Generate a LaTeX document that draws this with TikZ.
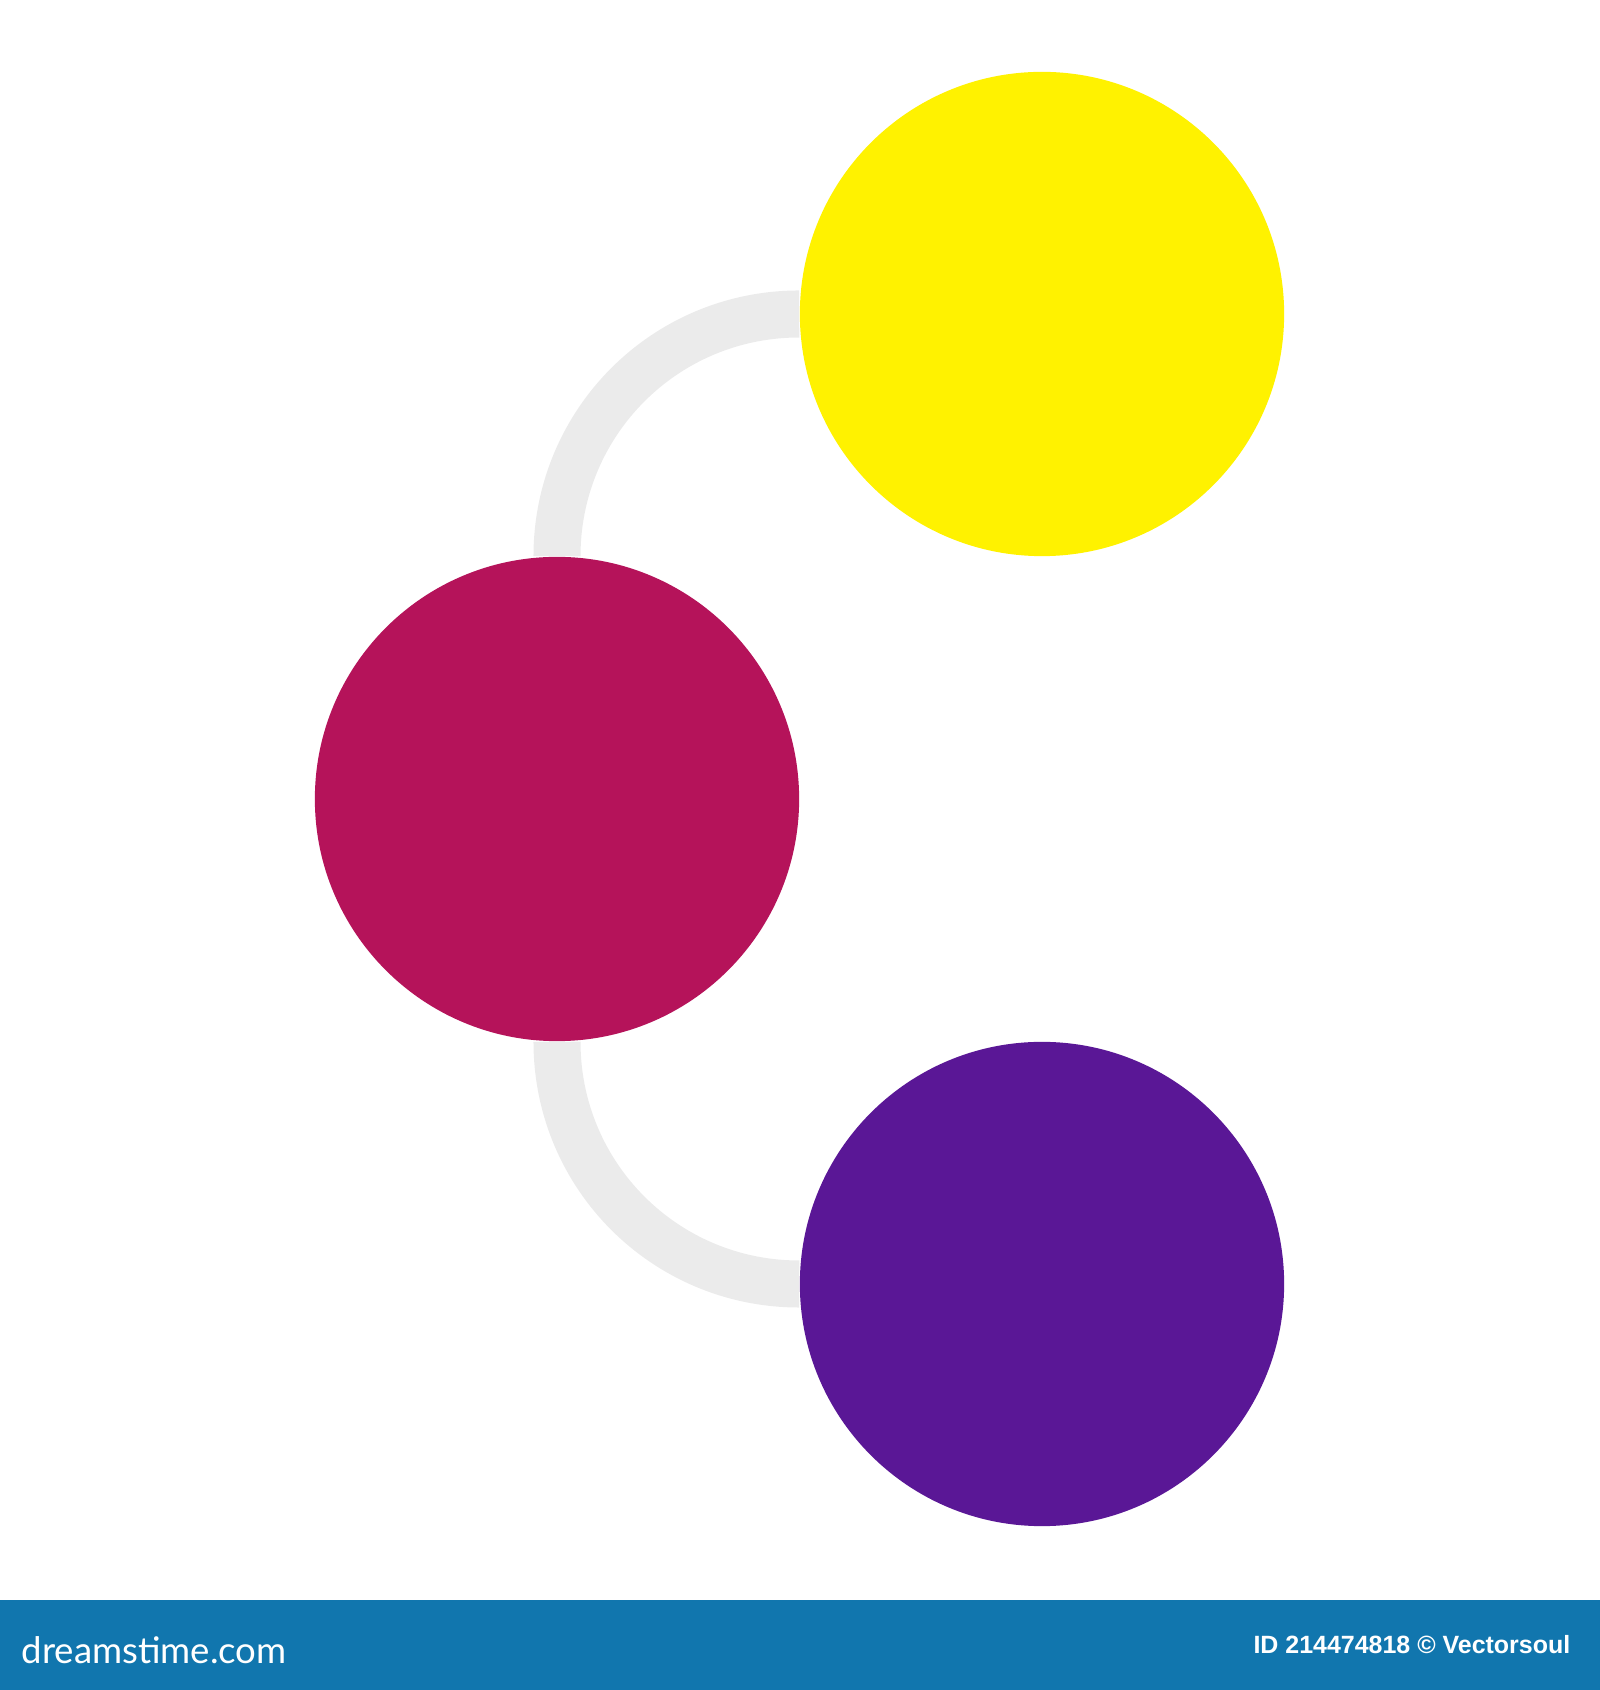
\documentclass[tikz,border=0pt]{standalone}
\usepackage{fontspec}
\usepackage{xcolor}
\usepackage{tikz}
\usetikzlibrary{backgrounds}
\newfontfamily\logofont{Lato}
\newfontfamily\idfont{Liberation Sans}
\definecolor{yel}{HTML}{FFF200}
\definecolor{mag}{HTML}{B5135A}
\definecolor{pur}{HTML}{5A1796}
\definecolor{arcgrey}{HTML}{EBEBEB}
\definecolor{bar}{HTML}{1176AE}
\tikzset{blob/.style={circle,minimum size=4.84cm,inner sep=0}}
\tikzset{link/.style={draw=arcgrey,line width=0.47cm}}

\begin{document}
\begin{tikzpicture}[x=0.01cm,y=0.01cm]
    \useasboundingbox (0,0) rectangle (1600,1690);
    \fill[bar] (0,0) rectangle (1600,90);

    \node[blob,fill=yel] (top) at (1042,1376) {};
    \node[blob,fill=mag] (mid) at (557,891) {};
    \node[blob,fill=pur] (bot) at (1042,406) {};

    \begin{scope}[on background layer]
    \draw [link] (top.west) to [out=180,in=90] (mid.north);
    \draw [link] (mid.south) to [out=-90,in=180] (bot.west);
    \end{scope}

    \node[anchor=base west,text=white,inner sep=0] (site) at (21,27)
        {\fontsize{10.4}{12}\logofont dreamstime.com};
    \node[anchor=base east,text=white,inner sep=0] (credit) at (1571,36)
        {\fontsize{7.1}{9}\idfont\bfseries ID 214474818 © Vectorsoul};
\end{tikzpicture}
\end{document}
